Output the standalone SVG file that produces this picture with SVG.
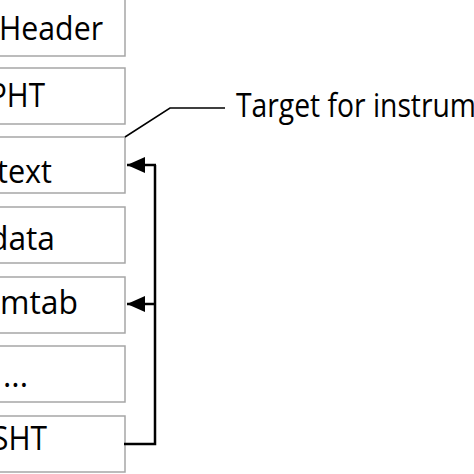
<svg xmlns="http://www.w3.org/2000/svg" width="474" height="474" viewBox="0 0 474 474">
  <style>
    .box { fill: #ffffff; stroke: #a6a6a6; stroke-width: 1.5; }
    .lbl { font-family: "Open Sans", "Noto Sans", sans-serif; font-size: 32px; fill: #000000; }
    .wire { fill: none; stroke: #000000; stroke-width: 2.5; }
    .lead { fill: none; stroke: #000000; stroke-width: 1.5; }
  </style>
  <defs>
    <marker id="arrow" markerUnits="userSpaceOnUse" markerWidth="20" markerHeight="18" refX="18" refY="8" orient="auto">
      <path d="M0,0 L18,8 L0,16 Z" fill="#000000"/>
    </marker>
  </defs>
  <rect width="474" height="474" fill="#ffffff"/>
  <g id="node-header"><rect class="box" x="-10" y="-1" width="135" height="57"/><text class="lbl" x="-1" y="40" textLength="104" lengthAdjust="spacingAndGlyphs">Header</text></g>
  <g id="node-pht"><rect class="box" x="-10" y="68" width="135" height="56"/><text class="lbl" x="-11" y="107" textLength="56" lengthAdjust="spacingAndGlyphs">PHT</text></g>
  <g id="node-text"><rect class="box" x="-10" y="137" width="135" height="56"/><text class="lbl" x="-3" y="183" textLength="55" lengthAdjust="spacingAndGlyphs">text</text></g>
  <g id="node-data"><rect class="box" x="-10" y="207" width="135" height="56"/><text class="lbl" x="-11" y="250" textLength="66" lengthAdjust="spacingAndGlyphs">data</text></g>
  <g id="node-symtab"><rect class="box" x="-10" y="277" width="135" height="56"/><text class="lbl" x="0" y="314" textLength="78" lengthAdjust="spacingAndGlyphs">mtab</text></g>
  <g id="node-dots"><rect class="box" x="-10" y="346" width="135" height="56"/><text class="lbl" x="3" y="387" textLength="25" lengthAdjust="spacingAndGlyphs">...</text></g>
  <g id="node-sht"><rect class="box" x="-10" y="416" width="135" height="56"/><text class="lbl" x="-8" y="450" textLength="55" lengthAdjust="spacingAndGlyphs">SHT</text></g>
  <g id="node-target"><text class="lbl" x="236" y="117" textLength="240" lengthAdjust="spacingAndGlyphs">Target for instrum</text></g>
  <g id="connectors">
    <path class="lead" d="M125,137 L170,108 H225"/>
    <path class="wire" d="M124,444 H155 V165"/>
    <path class="wire" d="M156,165 H127" marker-end="url(#arrow)"/>
    <path class="wire" d="M156,304 H127" marker-end="url(#arrow)"/>
  </g>
</svg>
